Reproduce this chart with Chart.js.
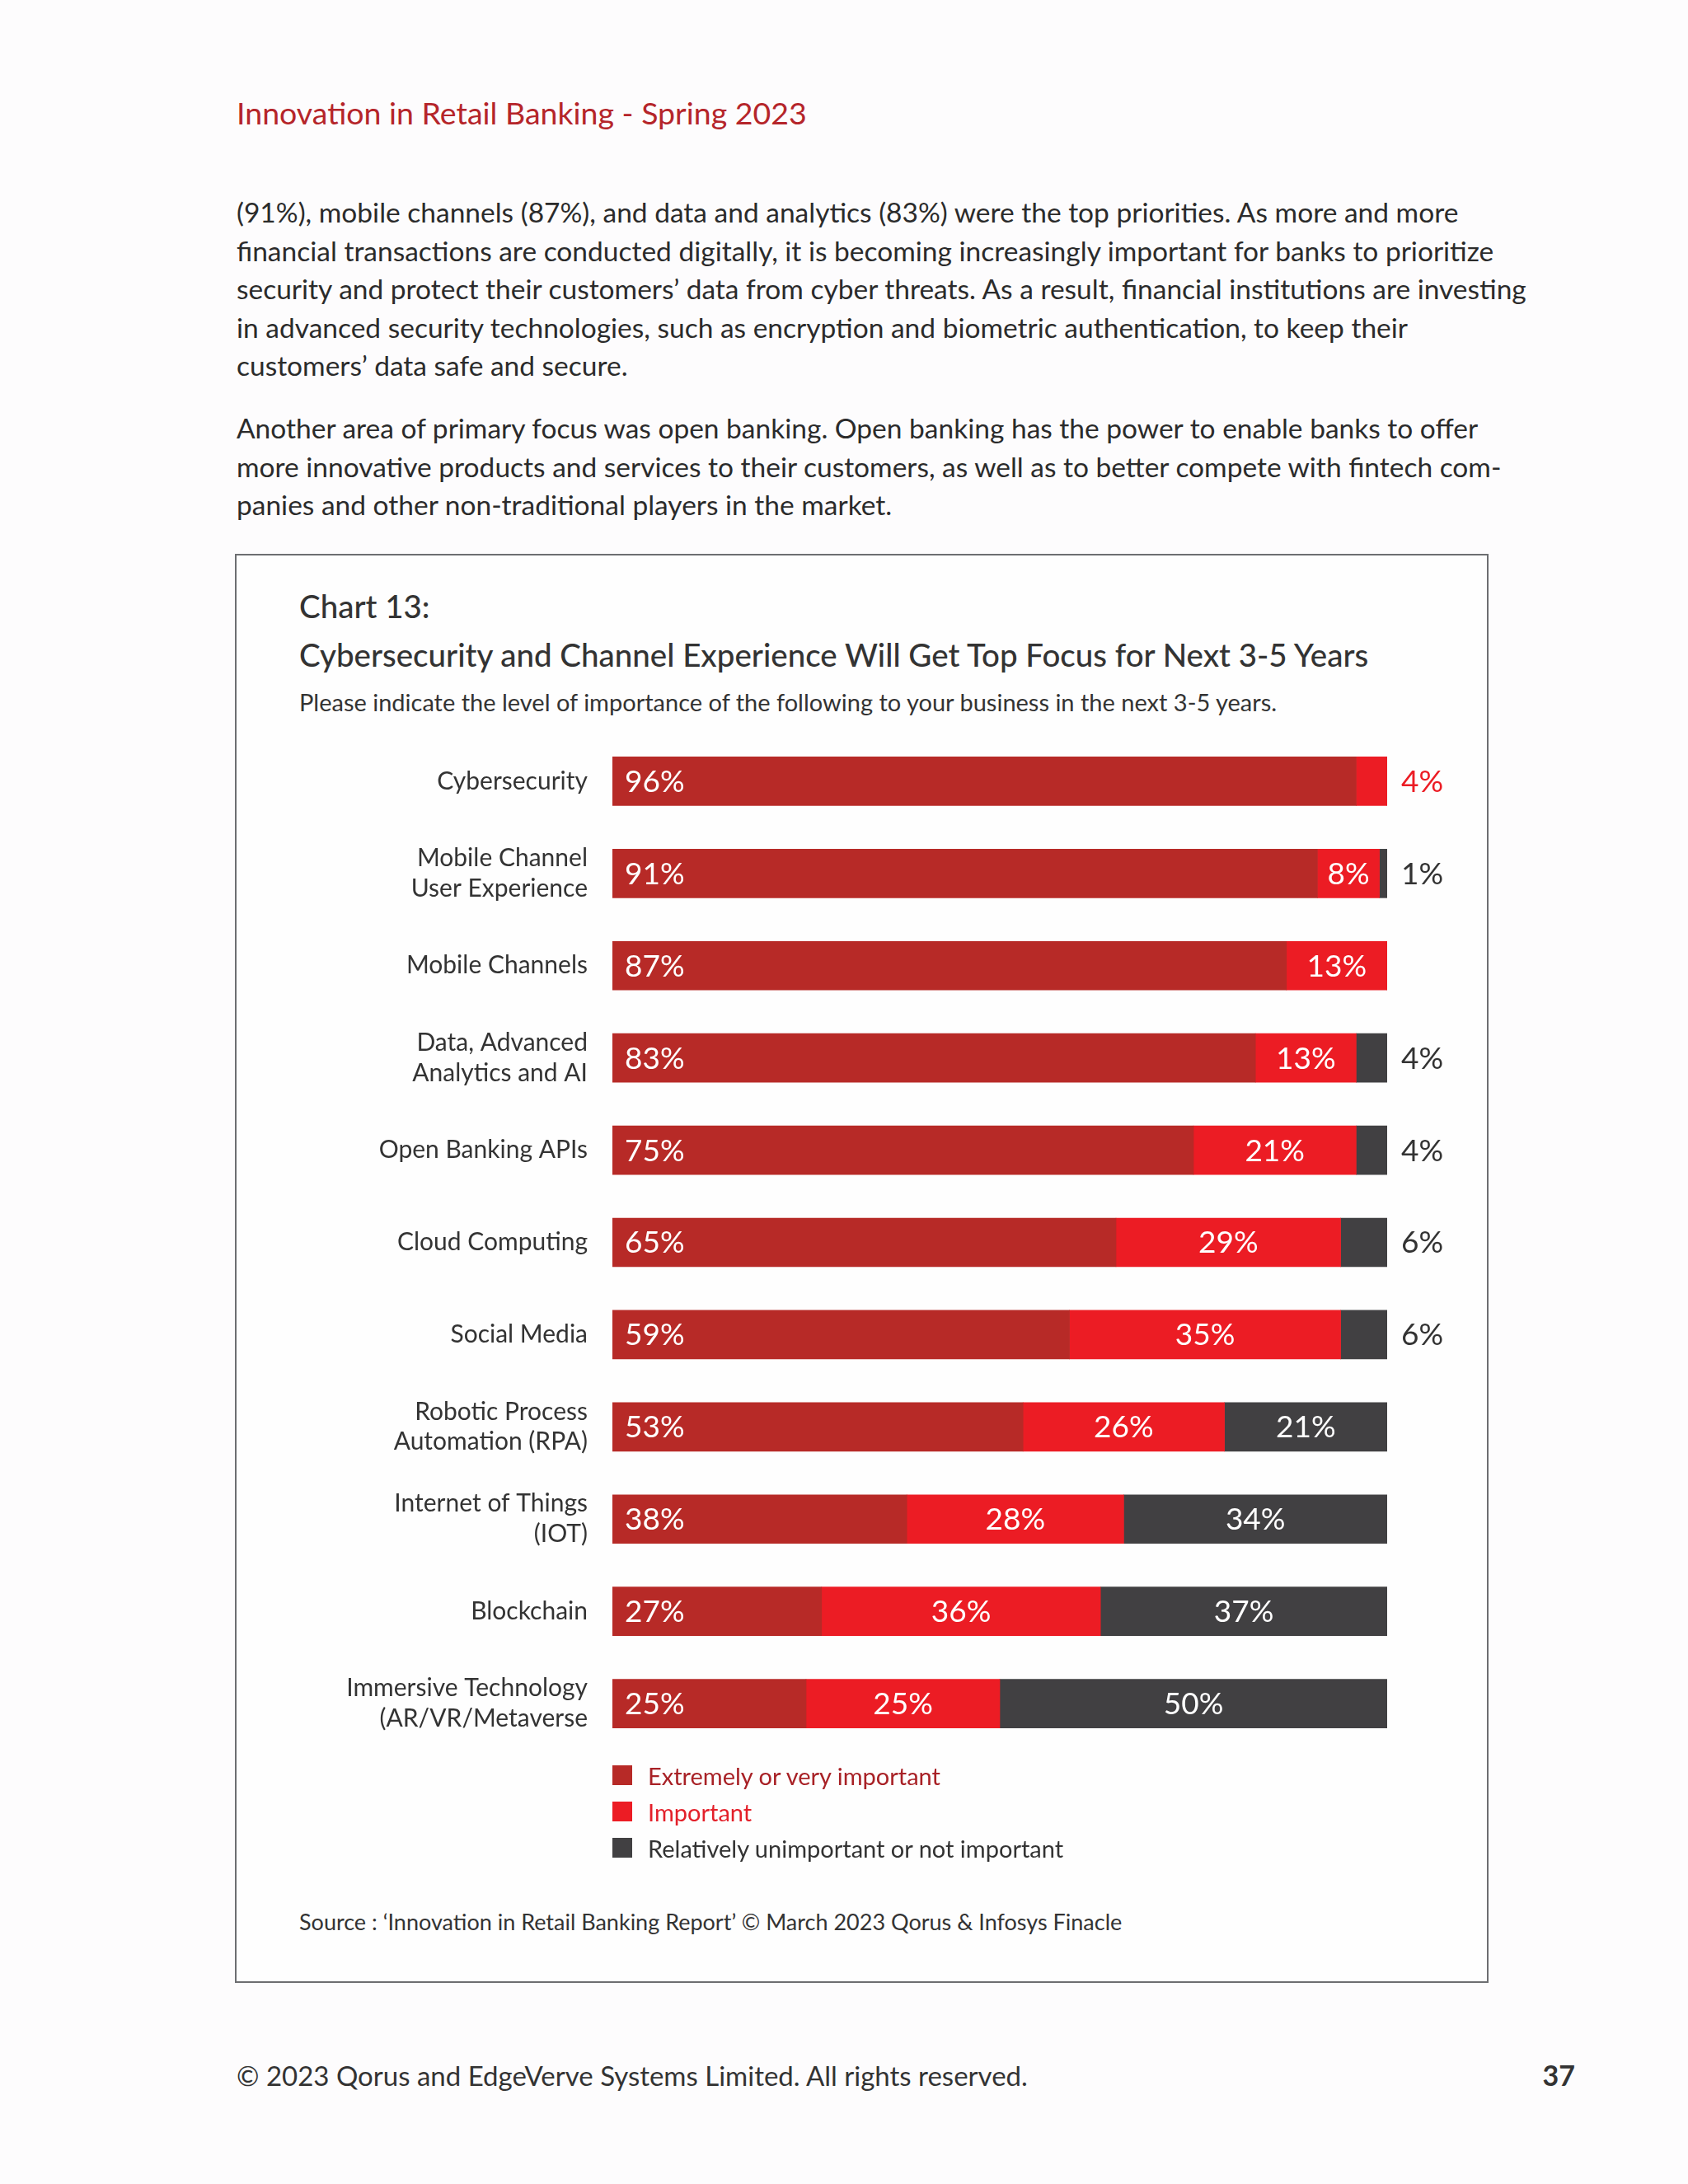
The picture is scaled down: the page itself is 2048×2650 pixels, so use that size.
<!DOCTYPE html>
<html>
<head>
<meta charset="utf-8">
<script src="https://cdn.jsdelivr.net/npm/chart.js@4.4.0/dist/chart.umd.min.js"></script>
<style>
  body { margin: 0; background: #fdfcfd; font-family: Lato, "Noto Sans", sans-serif; color: #333; }
  #page { position: relative; width: 2048px; height: 2650px; overflow: hidden; }
  .abs { position: absolute; white-space: nowrap; }
  #header { left: 287px; top: 115px; font-size: 37.5px; line-height: 44px; color: #b5252a; }
  .para { left: 287px; font-size: 33.5px; line-height: 46.5px; color: #2b2b2b; }
  #box { left: 285px; top: 672px; width: 1521px; height: 1734px; border: 2px solid #6d6e71; box-sizing: border-box; background: #fefefe; }
  #chartNo, #title { left: 363px; font-size: 38.5px; line-height: 44px; color: #333; font-weight: 500; }
  #chartNo { top: 713px; }
  #title { top: 772px; }
  #subtitle { left: 363px; top: 834px; font-size: 29px; line-height: 36px; color: #333; }
  #wrap { left: 287px; top: 860px; width: 1521px; height: 1290px; }
  #legend { left: 743px; top: 2132px; }
  .leg { height: 44px; display: flex; align-items: center; font-size: 29px; }
  .leg span.sw { width: 24px; height: 24px; margin-right: 19px; display: inline-block; }
  #source { left: 363px; top: 2315px; font-size: 27px; line-height: 34px; color: #333; }
  #footer { left: 287px; top: 2497px; font-size: 33px; line-height: 42px; color: #333; }
  #pageNo { left: 1860px; width: 51px; text-align: right; top: 2497px; font-size: 34px; line-height: 42px; color: #333; font-weight: 700; }
</style>
</head>
<body>
<div id="page">
  <div class="abs" id="header">Innovation in Retail Banking - Spring 2023</div>
  <div class="abs para" style="top:234px">(91%), mobile channels (87%), and data and analytics (83%) were the top priorities. As more and more<br>financial transactions are conducted digitally, it is becoming increasingly important for banks to prioritize<br>security and protect their customers’ data from cyber threats. As a result, financial institutions are investing<br>in advanced security technologies, such as encryption and biometric authentication, to keep their<br>customers’ data safe and secure.</div>
  <div class="abs para" style="top:496px">Another area of primary focus was open banking. Open banking has the power to enable banks to offer<br>more innovative products and services to their customers, as well as to better compete with fintech com-<br>panies and other non-traditional players in the market.</div>

  <div class="abs" id="box"></div>
  <div class="abs" id="chartNo">Chart 13:</div>
  <div class="abs" id="title">Cybersecurity and Channel Experience Will Get Top Focus for Next 3-5 Years</div>
  <div class="abs" id="subtitle">Please indicate the level of importance of the following to your business in the next 3-5 years.</div>
  <div class="abs" id="wrap"><canvas id="bars" width="1521" height="1290"></canvas></div>
  <div class="abs" id="legend"></div>
  <div class="abs" id="source">Source : ‘Innovation in Retail Banking Report’ © March 2023 Qorus &amp; Infosys Finacle</div>
  <div class="abs" id="footer">© 2023 Qorus and EdgeVerve Systems Limited. All rights reserved.</div>
  <div class="abs" id="pageNo">37</div>
</div>
<script>
let categories = [
    "Cybersecurity",
    ["Mobile Channel", "User Experience"],
    "Mobile Channels",
    ["Data, Advanced", "Analytics and AI"],
    "Open Banking APIs",
    "Cloud Computing",
    "Social Media",
    ["Robotic Process", "Automation (RPA)"],
    ["Internet of Things", "(IOT)"],
    "Blockchain",
    ["Immersive Technology", "(AR/VR/Metaverse"]
];
let extremely = [96, 91, 87, 83, 75, 65, 59, 53, 38, 27, 25];
let important = [4, 8, 13, 13, 21, 29, 35, 26, 28, 36, 25];
let unimportant = [0, 1, 0, 4, 4, 6, 6, 21, 34, 37, 50];

let seriesNames = ["Extremely or very important", "Important", "Relatively unimportant or not important"];
let seriesColors = ["#b72a27", "#ec1c24", "#414042"];
let legendTextColors = ["#a82126", "#e3202a", "#333333"];

// legend built from the series arrays
let legend = document.getElementById("legend");
seriesNames.forEach(function (name, i) {
    let row = document.createElement("div");
    row.className = "leg";
    row.innerHTML = '<span class="sw" style="background:' + seriesColors[i] + '"></span>' +
        '<span style="color:' + legendTextColors[i] + '">' + name + '</span>';
    legend.appendChild(row);
});

let valueLabels = {
    id: "valueLabels",
    afterDatasetsDraw(chart) {
        let ctx = chart.ctx;
        let xScale = chart.scales.x;
        ctx.save();
        ctx.font = "37px Lato, 'Noto Sans', sans-serif";
        ctx.textBaseline = "middle";
        chart.data.datasets.forEach(function (ds, i) {
            let meta = chart.getDatasetMeta(i);
            meta.data.forEach(function (bar, j) {
                let v = ds.data[j];
                if (!v) return;
                let y = bar.y + 1;
                if (i === 0) {
                    ctx.fillStyle = "#ffffff";
                    ctx.textAlign = "left";
                    ctx.fillText(v + "%", bar.base + 15, y);
                } else if (v >= 8) {
                    ctx.fillStyle = "#ffffff";
                    ctx.textAlign = "center";
                    ctx.fillText(v + "%", (bar.base + bar.x) / 2, y);
                } else {
                    let total = extremely[j] + important[j] + unimportant[j];
                    ctx.fillStyle = i === 1 ? "#ec1c24" : "#333333";
                    ctx.textAlign = "left";
                    ctx.fillText(v + "%", xScale.getPixelForValue(total) + 17, y);
                }
            });
        });
        ctx.restore();
    }
};

let bars = document.getElementById("bars").getContext("2d");
let barChart = new Chart(bars, {
    type: "bar",
    data: {
        labels: categories,
        datasets: [
            { label: seriesNames[0], data: extremely, backgroundColor: seriesColors[0] },
            { label: seriesNames[1], data: important, backgroundColor: seriesColors[1] },
            { label: seriesNames[2], data: unimportant, backgroundColor: seriesColors[2] }
        ]
    },
    options: {
        indexAxis: "y",
        responsive: false,
        animation: false,
        barThickness: 59,
        layout: { padding: { left: 0, right: 125, top: 32, bottom: 27 } },
        scales: {
            x: { stacked: true, min: 0, max: 100, display: false },
            y: {
                stacked: true,
                grid: { display: false, drawTicks: false },
                border: { display: false },
                afterFit: function (scale) {
                    scale.width = 456;
                    scale.paddingTop = 0;
                    scale.paddingBottom = 0;
                },
                ticks: {
                    padding: 30,
                    color: "#333333",
                    font: { family: "Lato, 'Noto Sans', sans-serif", size: 30, lineHeight: 1.23 }
                }
            }
        },
        plugins: {
            legend: { display: false },
            tooltip: { enabled: false }
        }
    },
    plugins: [valueLabels]
});
</script>
</body>
</html>
